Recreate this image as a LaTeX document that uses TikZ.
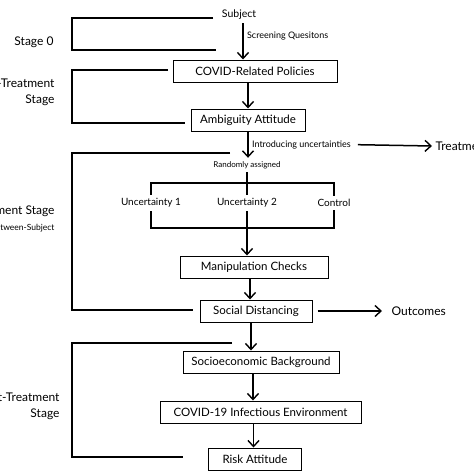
\documentclass[tikz,border=0pt]{standalone}
\usepackage{fontspec}
\setmainfont{Lato}
\usetikzlibrary{arrows.meta}
\begin{document}
\begin{tikzpicture}[x=1pt,y=-1pt,
        stagebox/.style={draw, line width=1pt, minimum height=22pt, inner sep=2pt, font=\fontsize{11.5}{13}\selectfont},
        flow/.style={-{Straight Barb[length=6pt,width=11pt,line width=1.4pt]}, line width=1.5pt},
        bracket/.style={line width=1.1pt},
        smalltext/.style={font=\fontsize{9}{11}\selectfont},
        grouptext/.style={font=\fontsize{10}{12}\selectfont},
        stagelabel/.style={anchor=east, align=right, font=\fontsize{12}{16}\selectfont}]
        % Definiciones
        \def\leftx{72}
        \clip (0,0) rectangle (474,474);
        % Etapas
        \node[stagelabel] (stage0) at (57,42) {Stage 0};
        \node[stagelabel] (prestage) at (58,92) {Pre-Treatment\\Stage};
        \node[stagelabel] (treatstage) at (58,211) {Treatment Stage};
        \node[stagelabel, font=\fontsize{8.5}{10}\selectfont] (between) at (58,228) {Between-Subject};
        \node[stagelabel] (poststage) at (63,406) {Post-Treatment\\Stage};
        % Corchetes
        \draw[bracket] (213,18) -- (\leftx,18) -- (\leftx,50) -- (216,50);
        \draw[bracket] (168,70) -- (\leftx,70) -- (\leftx,123) -- (185,123);
        \draw[bracket] (230,153) -- (\leftx,153) -- (\leftx,310) -- (193,310);
        \draw[bracket] (232,343) -- (\leftx,343) -- (\leftx,457) -- (183,457);
        % Nodos
        \node[font=\fontsize{10.5}{12}\selectfont] (subject) at (239,15) {Subject};
        \node[stagebox, minimum width=164pt] (policies) at (255,71) {COVID-Related Policies};
        \node[stagebox, minimum width=114pt] (ambiguity) at (248,120) {Ambiguity Attitude};
        \node[smalltext, font=\fontsize{8}{10}\selectfont] (random) at (247,165) {Randomly assigned};
        \node[grouptext] (unc1) at (151,203) {Uncertainty 1};
        \node[grouptext] (unc2) at (247,203) {Uncertainty 2};
        \node[grouptext] (control) at (334,203) {Control};
        \node[stagebox, minimum width=148pt] (manip) at (254,267) {Manipulation Checks};
        \node[stagebox, minimum width=112pt] (social) at (256,311) {Social Distancing};
        \node[font=\fontsize{12}{14}\selectfont, anchor=west] (outcomes) at (388,311) {Outcomes};
        \node[font=\fontsize{12}{14}\selectfont, anchor=west] (treateff) at (432,146) {Treatment};
        \node[stagebox, minimum width=156pt] (socio) at (261,362) {Socioeconomic Background};
        \node[stagebox, minimum width=201pt] (infect) at (260.5,412) {COVID-19 Infectious Environment};
        \node[stagebox, minimum width=93pt] (risk) at (255,459) {Risk Attitude};
        % Flechas
        \draw[flow] ([xshift=4pt]subject.south) -- ([xshift=4pt]subject.south |- policies.north)
                    node[smalltext, pos=0.35, right]{Screening Quesitons};
        \draw[flow] (ambiguity.north |- policies.south) -- (ambiguity.north);
        \draw[flow] (ambiguity.south) -- (ambiguity.south |- random.north)
                    node[smalltext, midway, right] (intro) {Introducing uncertainties};
        \draw[flow, shorten <=3pt] (intro.east) -- (treateff.west);
        % Asignacion aleatoria
        \draw[bracket] (random.south) -- (random.south |- unc2.north);
        \draw[bracket] (unc1.north) -- (unc1.north |- 0,183) -- (control.north |- 0,183) -- (control.north);
        \draw[bracket] (unc1.south) -- (unc1.south |- 0,228) -- (control.south |- 0,228) -- (control.south);
        \draw[flow] (unc2.south) -- (unc2.south |- manip.north);
        \draw[flow] ([xshift=-4pt]manip.south) -- ([xshift=-4pt]manip.south |- social.north);
        \draw[flow, shorten <=5pt, shorten >=6pt] (social.east) -- (outcomes.west);
        \draw[flow] ([xshift=-5pt]social.south) -- ([xshift=-5pt]social.south |- socio.north);
        \draw[flow] ([xshift=-8pt]socio.south) -- ([xshift=-8pt]socio.south |- infect.north);
        \draw[flow] ([xshift=-7pt]infect.south) -- ([xshift=-7pt]infect.south |- risk.north);
    \end{tikzpicture}
\end{document}
